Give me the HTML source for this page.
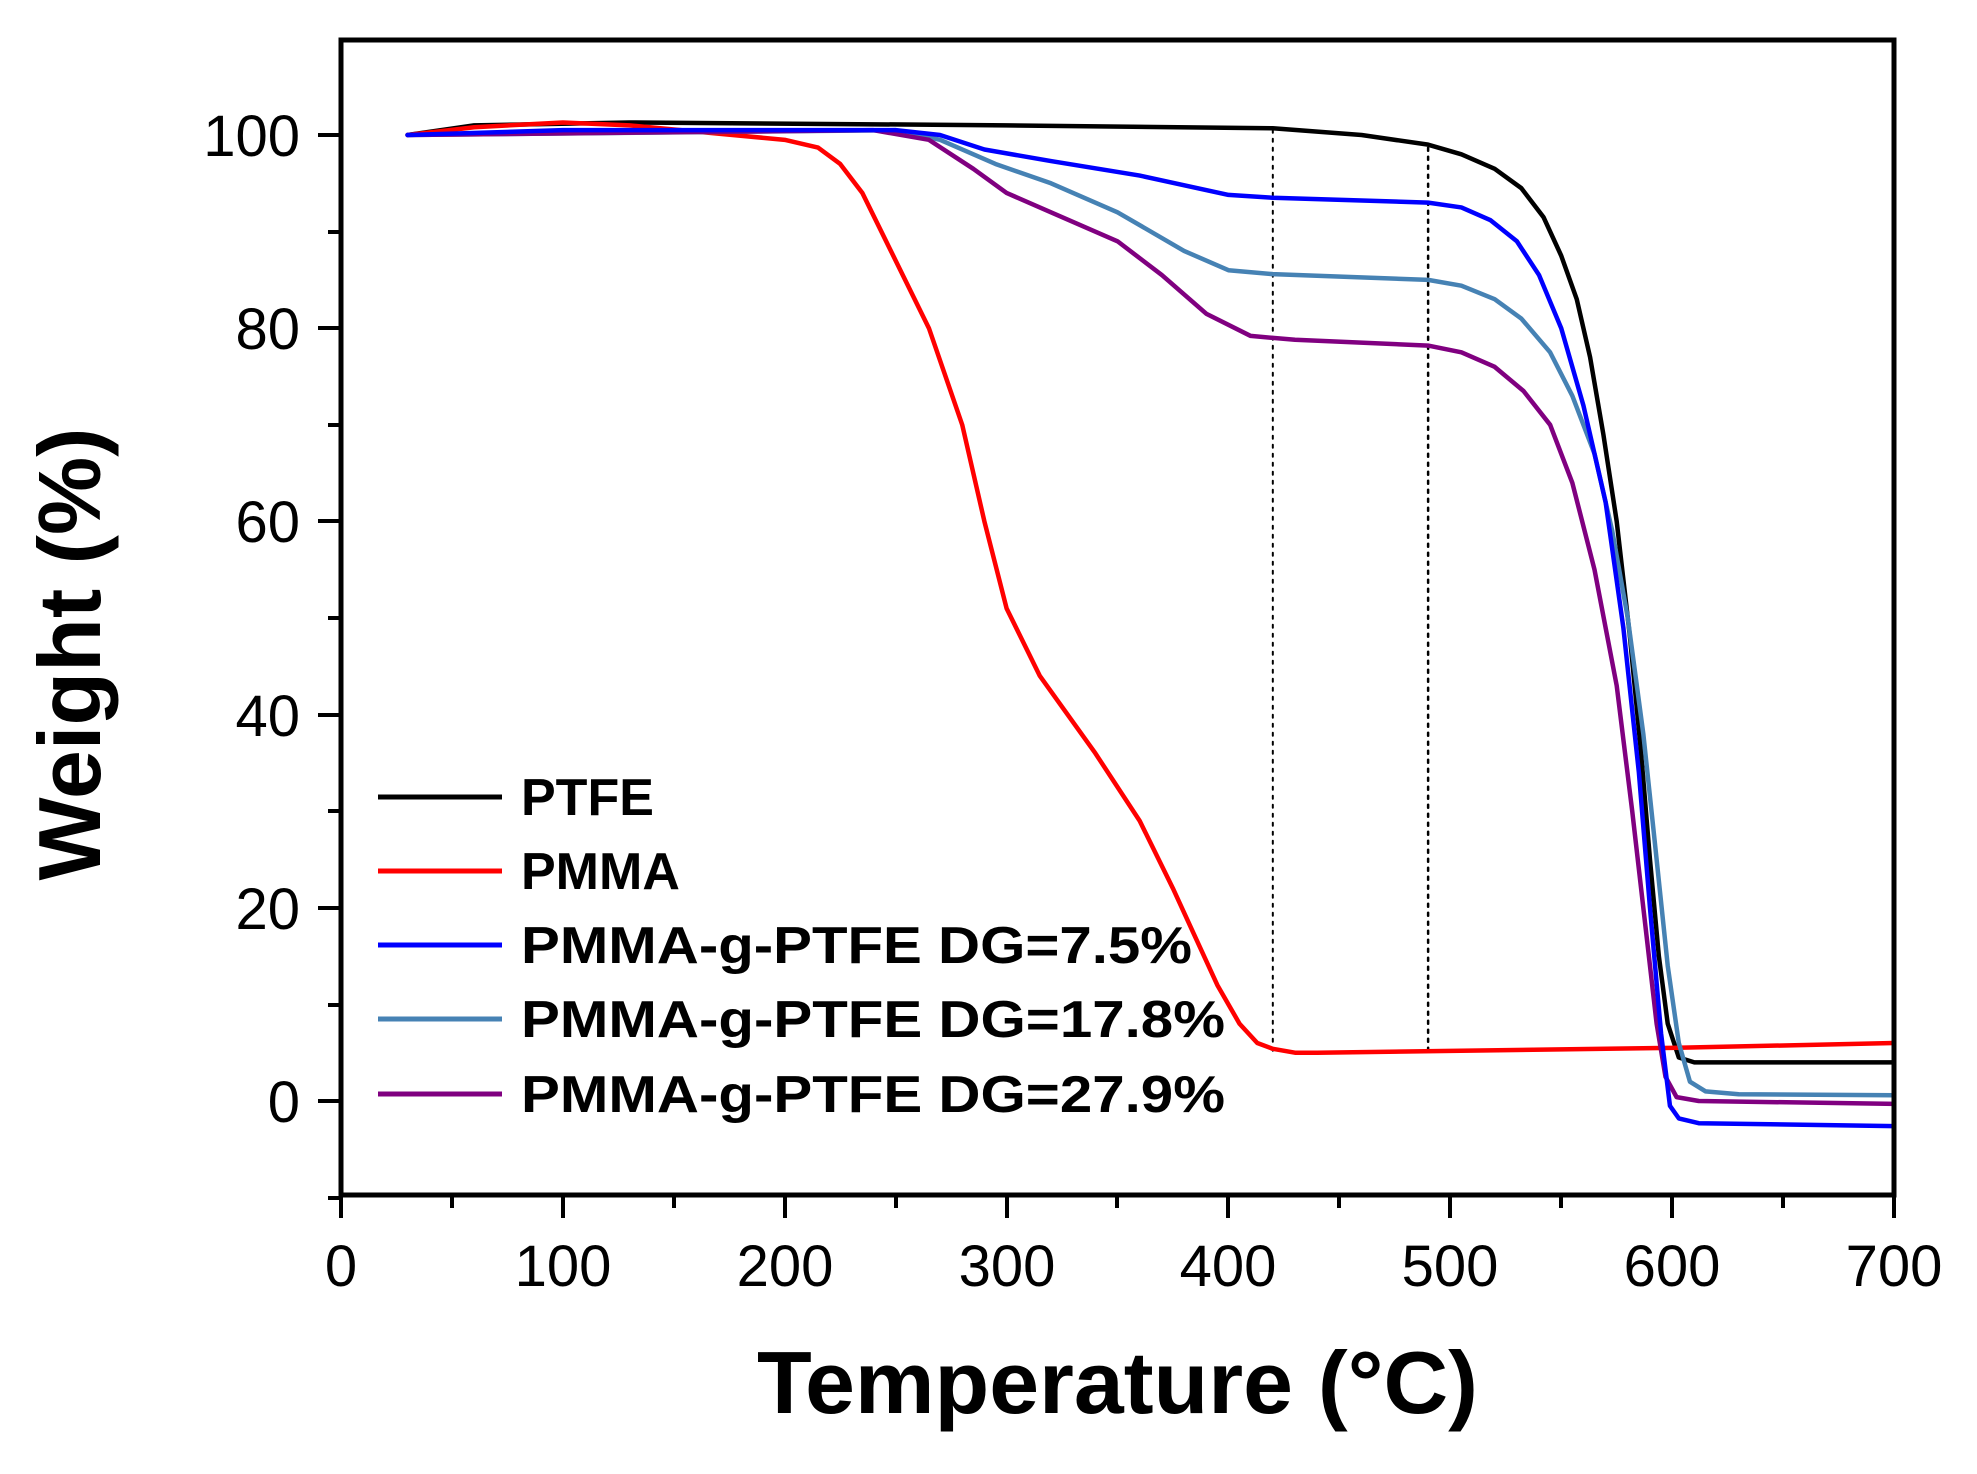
<!DOCTYPE html>
<html><head><meta charset="utf-8"><style>html,body{margin:0;padding:0;background:#fff}</style></head>
<body>
<svg width="1977" height="1469" xmlns="http://www.w3.org/2000/svg" font-family="Liberation Sans, sans-serif">
<rect width="1977" height="1469" fill="#fff"/>
<g transform="translate(341,1101) scale(2.2186,-9.66)" fill="none" stroke-linejoin="round" stroke-linecap="round">
<polyline vector-effect="non-scaling-stroke" stroke="#000" stroke-width="2" stroke-dasharray="3,6" points="420,5.2 420,100.7"/>
<polyline vector-effect="non-scaling-stroke" stroke="#000" stroke-width="2.5" stroke-dasharray="3,6" points="490,5.2 490,99"/>
<polyline vector-effect="non-scaling-stroke" stroke="#000" stroke-width="4.5" points="30,100 60,101 130,101.3 300,101 420,100.7 460,100 490,99 505,98 520,96.5 532,94.5 542,91.5 550,87.5 557,83 563,77 569,69 575,60 581,48 586,36 590,25 594,15 598,8 603,4.5 610,4 700,4"/>
<polyline vector-effect="non-scaling-stroke" stroke="#ff0000" stroke-width="4.5" points="30,100 60,100.8 100,101.3 130,101 200,99.5 215,98.7 225,97 235,94 250,87 265,80 280,70 290,60 300,51 315,44 340,36 360,29 375,22 385,17 395,12 405,8 413,6 420,5.4 430,5 440,5 600,5.5 700,6"/>
<polyline vector-effect="non-scaling-stroke" stroke="#4682b4" stroke-width="4.5" points="30,100 250,100.5 270,99.5 295,97 320,95 350,92 380,88 400,86 420,85.6 490,85 505,84.4 520,83 532,81 545,77.5 555,73 565,67 573,59 580,50 587,38 593,25 598,14 603,6 608,2 615,1 630,0.7 700,0.6"/>
<polyline vector-effect="non-scaling-stroke" stroke="#800080" stroke-width="4.5" points="30,100 240,100.5 265,99.5 285,96.5 300,94 320,92 350,89 370,85.5 390,81.5 410,79.2 430,78.8 490,78.2 505,77.5 520,76 533,73.5 545,70 555,64 565,55 575,43 582,30 588,18 593,8 597,2.5 602,0.4 612,0 700,-0.3"/>
<polyline vector-effect="non-scaling-stroke" stroke="#0000ff" stroke-width="4.5" points="30,100 100,100.5 250,100.5 270,100 290,98.5 320,97.3 360,95.8 400,93.8 420,93.5 490,93 505,92.5 518,91.2 530,89 540,85.5 550,80 560,72 570,62 578,49 585,34 590,20 595,7 599,-0.5 603,-1.8 612,-2.3 700,-2.6"/>
</g>
<rect x="341" y="40" width="1553" height="1155" fill="none" stroke="#000" stroke-width="5"/>
<g stroke="#000" stroke-width="4">
<line x1="341" y1="1195" x2="341" y2="1218"/><line x1="563" y1="1195" x2="563" y2="1218"/><line x1="785" y1="1195" x2="785" y2="1218"/><line x1="1007" y1="1195" x2="1007" y2="1218"/><line x1="1228" y1="1195" x2="1228" y2="1218"/><line x1="1450" y1="1195" x2="1450" y2="1218"/><line x1="1672" y1="1195" x2="1672" y2="1218"/><line x1="1894" y1="1195" x2="1894" y2="1218"/>
<line x1="452" y1="1195" x2="452" y2="1208"/><line x1="674" y1="1195" x2="674" y2="1208"/><line x1="896" y1="1195" x2="896" y2="1208"/><line x1="1117" y1="1195" x2="1117" y2="1208"/><line x1="1339" y1="1195" x2="1339" y2="1208"/><line x1="1561" y1="1195" x2="1561" y2="1208"/><line x1="1783" y1="1195" x2="1783" y2="1208"/>
<line x1="341" y1="135" x2="318" y2="135"/><line x1="341" y1="328" x2="318" y2="328"/><line x1="341" y1="521" x2="318" y2="521"/><line x1="341" y1="715" x2="318" y2="715"/><line x1="341" y1="908" x2="318" y2="908"/><line x1="341" y1="1101" x2="318" y2="1101"/>
<line x1="341" y1="232" x2="328" y2="232"/><line x1="341" y1="425" x2="328" y2="425"/><line x1="341" y1="618" x2="328" y2="618"/><line x1="341" y1="811" x2="328" y2="811"/><line x1="341" y1="1005" x2="328" y2="1005"/><line x1="341" y1="1198" x2="328" y2="1198"/>
</g>
<g font-size="58" text-anchor="end" fill="#000">
<text x="300" y="156">100</text><text x="300" y="349">80</text><text x="300" y="542">60</text><text x="300" y="736">40</text><text x="300" y="929">20</text><text x="300" y="1122">0</text>
</g>
<g font-size="58" text-anchor="middle" fill="#000">
<text x="341" y="1286">0</text><text x="563" y="1286">100</text><text x="785" y="1286">200</text><text x="1007" y="1286">300</text><text x="1228" y="1286">400</text><text x="1450" y="1286">500</text><text x="1672" y="1286">600</text><text x="1894" y="1286">700</text>
</g>
<text x="757" y="1413" font-size="88" font-weight="bold" textLength="721" lengthAdjust="spacingAndGlyphs">Temperature (°C)</text>
<text transform="translate(100,654) rotate(-90)" text-anchor="middle" font-size="88" font-weight="bold">Weight (%)</text>
<g stroke-width="5">
<line x1="378" y1="797" x2="502" y2="797" stroke="#000"/>
<line x1="378" y1="871" x2="502" y2="871" stroke="#ff0000"/>
<line x1="378" y1="945" x2="502" y2="945" stroke="#0000ff"/>
<line x1="378" y1="1019" x2="502" y2="1019" stroke="#4682b4"/>
<line x1="378" y1="1094" x2="502" y2="1094" stroke="#800080"/>
</g>
<g font-size="52" font-weight="bold" fill="#000">
<text x="521" y="815">PTFE</text>
<text x="521" y="889">PMMA</text>
<text x="521" y="963" textLength="671" lengthAdjust="spacingAndGlyphs">PMMA-g-PTFE DG=7.5%</text>
<text x="521" y="1037" textLength="704" lengthAdjust="spacingAndGlyphs">PMMA-g-PTFE DG=17.8%</text>
<text x="521" y="1112" textLength="704" lengthAdjust="spacingAndGlyphs">PMMA-g-PTFE DG=27.9%</text>
</g>
</svg>
</body></html>
